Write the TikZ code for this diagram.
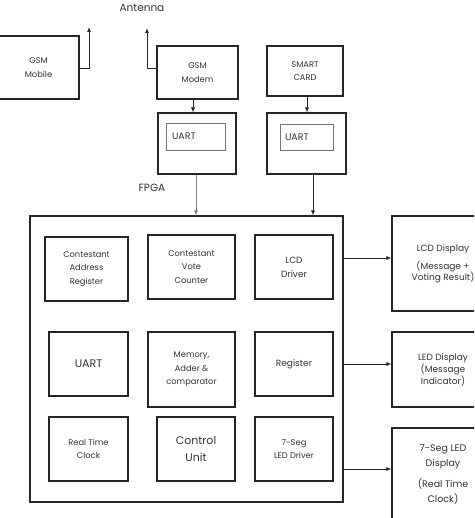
\documentclass[tikz,border=0pt]{standalone}
\usepackage{fontspec}
\setmainfont{Poppins}
\usetikzlibrary{arrows.meta}
\begin{document}
\begin{tikzpicture}[x=1pt,y=-1pt,
  box/.style n args={2}{draw=black!85,line width=1.1pt,minimum width=#1pt,minimum height=#2pt,
     inner sep=1pt,align=center,font=\fontsize{8.3}{13.5}\selectfont,text=black!80},
  ibox/.style n args={2}{draw=black!55,line width=0.8pt,minimum width=#1pt,minimum height=#2pt,
     inner sep=1pt,font=\fontsize{9.5}{10}\selectfont,text=black!80},
  big/.style={font=\fontsize{11}{17}\selectfont},
  disp/.style={font=\fontsize{9}{14}\selectfont},
  lbl/.style={font=\fontsize{10.5}{10}\selectfont,text=black!80,inner sep=0pt},
  arr/.style={draw=black!85,line width=0.8pt,-{Latex[length=5pt,width=4pt]}},
  ln/.style={draw=black!85,line width=0.8pt}]
\path[use as bounding box] (0,0) rectangle (474,518);
\clip (0,0) rectangle (474,518);

% top blocks
\node[box={81}{63}] (mob) at (38.5,67.5) {GSM\\Mobile};
\node[box={81}{53}] (modem) at (197.5,72.5) {GSM\\Modem};
\node[box={76}{50}] (smart) at (305,71) {SMART\\CARD};
\node[lbl] (ant) at (142,8) {Antenna};
\coordinate (antA) at (89,27);
\coordinate (antB) at (147,28);
\draw[arr] (mob.east |- 0,68) -| (antA);
\draw[arr] (modem.west |- 0,68) -| (antB);

% UART modules
\node[box={78}{61}] (u1) at (197,143.5) {};
\node[ibox={59}{27},text width=47pt,align=left] (u1i) at (195.5,136.5) {UART};
\node[box={79}{61}] (u2) at (306.5,143.5) {};
\node[ibox={53}{26},text width=43pt,align=left] (u2i) at (306.5,137) {UART};
\draw[arr] (modem.south -| 193,0) -- (u1.north -| 193,0);
\draw[arr] (smart.south -| 307,0) -- (u2.north -| 307,0);

\node[lbl] (fpgal) at (152,188) {FPGA};

% FPGA
\node[box={313}{286}] (fpga) at (186.5,359) {};
\draw[arr,draw=black!50] (u1.south -| 196,0) -- (fpga.north -| 196,0);
\draw[arr] (u2.south -| 313,0) -- (fpga.north -| 313,0);

\node[box={83}{64}] (car) at (86.5,269) {Contestant\\Address\\Register};
\node[box={87}{64}] (cvc) at (191.5,267) {Contestant\\Vote\\Counter};
\node[box={78}{64},disp] (lcdd) at (294,267) {LCD\\Driver};
\node[box={79}{64},big] (u3) at (88.5,364) {UART};
\node[box={87}{75}] (mem) at (191.5,369.5) {Memory,\\Adder \&\\comparator};
\node[box={78}{64},disp] (reg) at (294,364) {Register};
\node[box={79}{64}] (rtc) at (88.5,449) {Real Time\\Clock};
\node[box={78}{64},big] (cu) at (196,449) {Control\\Unit};
\node[box={78}{64}] (seg) at (294,449) {7-Seg\\LED Driver};

% displays
\node[box={102}{95},disp] (lcddisp) at (443,263.5) {LCD Display\\[4pt](Message +\\[-3pt]Voting Result)};
\node[box={102}{75},disp] (leddisp) at (443,369.5) {LED Display\\[-2pt](Message\\[-2pt]Indicator)};
\node[box={102}{92},font=\fontsize{9.5}{15}\selectfont] (segdisp) at (443,474) {7-Seg LED\\Display\\[6pt](Real Time\\Clock)};

\draw[arr] (fpga.east |- 0,258) -- (lcddisp.west |- 0,258);
\draw[arr] (fpga.east |- 0,364) -- (leddisp.west |- 0,364);
\draw[arr] (fpga.east |- 0,469) -- (segdisp.west |- 0,469);
\end{tikzpicture}
\end{document}
